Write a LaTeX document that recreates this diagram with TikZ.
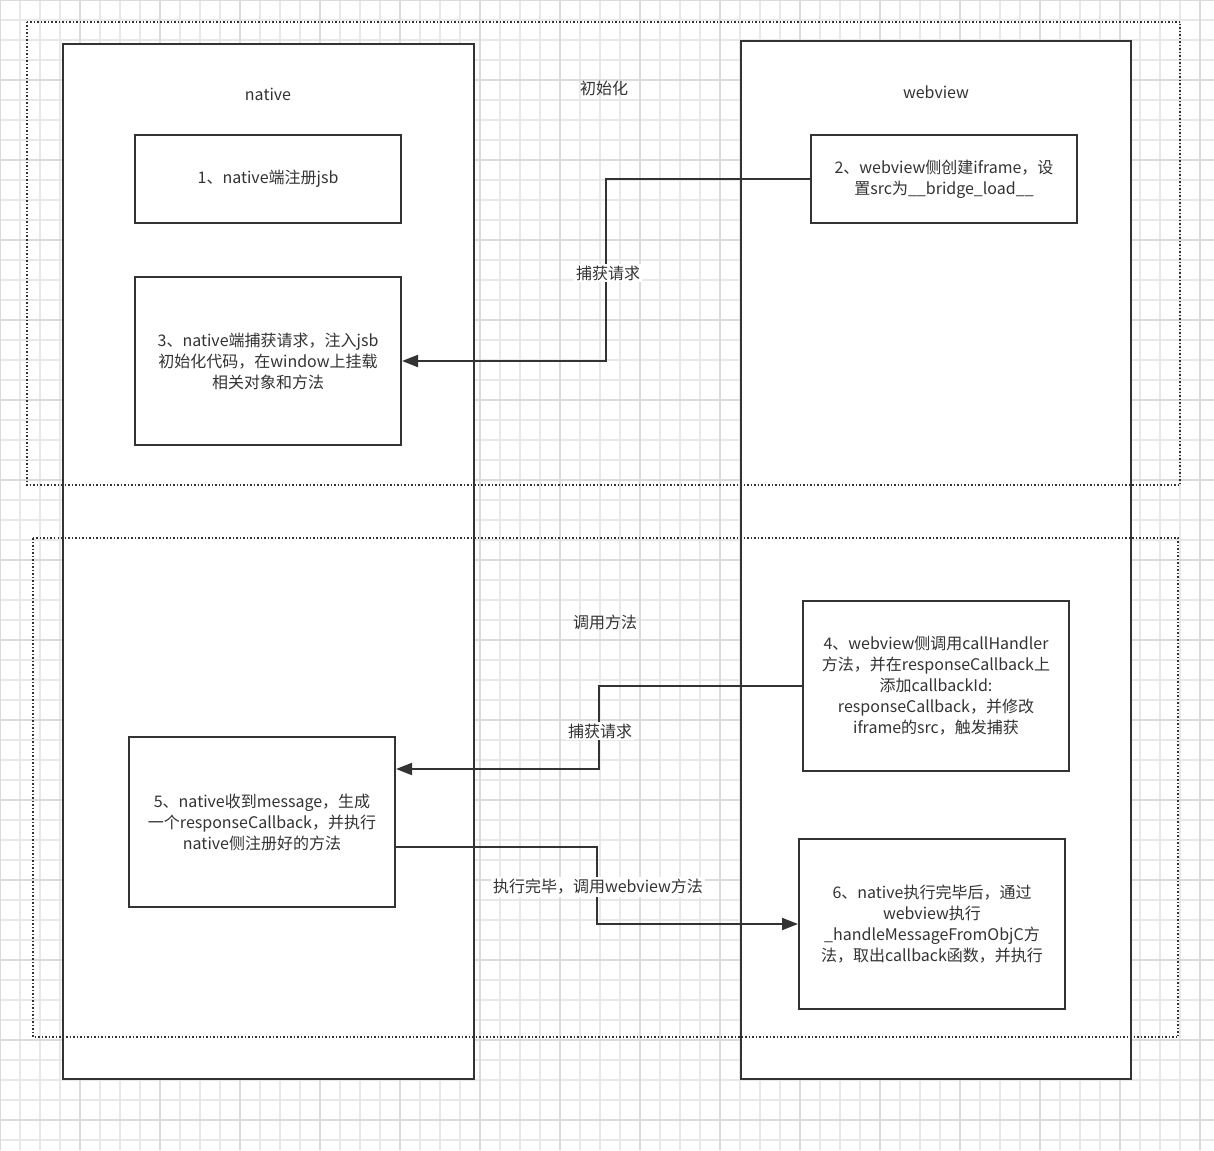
\documentclass[tikz,border=0pt]{standalone}
\usepackage{fontspec}
\setmainfont{Noto Sans CJK SC}
\usetikzlibrary{arrows.meta}
\definecolor{ln}{HTML}{333333}
\begin{document}
\begin{tikzpicture}[x=1pt,y=-1pt,
  box/.style={draw=ln,line width=2pt,fill=white,align=center,inner sep=4pt,font=\fontsize{16}{21}\selectfont,text=ln},
  col/.style={draw=ln,line width=2pt,fill=white},
  dbox/.style={draw=ln,line width=1.5pt,dotted},
  lbl/.style={font=\fontsize{16}{21}\selectfont,text=ln},
  conn/.style={draw=ln,line width=2pt,-{Triangle[length=16pt,width=12pt]}},
  clbl/.style={lbl,fill=white,inner sep=2pt}]
\useasboundingbox (0,0) rectangle (1214,1150);
\fill[white] (0,0) rectangle (1214,1150);
\foreach \i in {0,20,...,1200} \draw[black!9,line width=1.2pt] (\i,0) -- (\i,1150);
\foreach \i in {0,20,...,1140} \draw[black!9,line width=1.2pt] (0,\i) -- (1214,\i);
\foreach \i in {0,80,...,1200} \draw[black!14,line width=1.6pt] (\i,0) -- (\i,1150);
\foreach \i in {0,80,...,1140} \draw[black!14,line width=1.6pt] (0,\i) -- (1214,\i);
\draw[col] (63,44) rectangle (474,1079);
\draw[col] (741,41) rectangle (1131,1079);
\draw[dbox] (27,22) rectangle (1180,485);
\draw[dbox] (33,538) rectangle (1178,1037);
\node[lbl] (tn) at (268,94) {native};
\node[lbl] (tw) at (936,92) {webview};
\node[lbl] (t1) at (604,88) {初始化};
\node[lbl] (t2) at (605,622) {调用方法};
\node[box,minimum width=266pt,minimum height=88pt] (b1) at (268,179) {1、native端注册jsb};
\node[box,minimum width=266pt,minimum height=88pt] (b2) at (944,179) {2、webview侧创建iframe，设\\置src为\_\_bridge\_load\_\_};
\node[box,minimum width=266pt,minimum height=168pt] (b3) at (268,361) {3、native端捕获请求，注入jsb\\初始化代码，在window上挂载\\相关对象和方法};
\node[box,minimum width=266pt,minimum height=170pt] (b4) at (936,686) {4、webview侧调用callHandler\\方法，并在responseCallback上\\添加callbackId:\\responseCallback，并修改\\iframe的src，触发捕获};
\node[box,minimum width=266pt,minimum height=170pt] (b5) at (262,822) {5、native收到message，生成\\一个responseCallback，并执行\\native侧注册好的方法};
\node[box,minimum width=266pt,minimum height=170pt] (b6) at (932,924) {6、native执行完毕后，通过\\webview执行\\\_handleMessageFromObjC方\\法，取出callback函数，并执行};
\draw[conn] (b2.west) -| (606,270) |- (b3.east);
\node[clbl] (l1) at (608,273) {捕获请求};
\draw[conn] (b4.west) -| (599,730) |- ([yshift=53pt]b5.east);
\node[clbl] (l2) at (600,731) {捕获请求};
\draw[conn] ([yshift=-25pt]b5.east) -| (597,890) |- (b6.west);
\node[clbl] (l3) at (598,887) {执行完毕，调用webview方法};
\end{tikzpicture}
\end{document}
